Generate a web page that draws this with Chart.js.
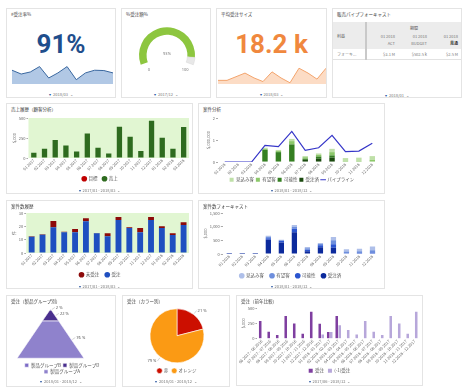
<!DOCTYPE html>
<html>
<head>
<meta charset="utf-8">
<script src="https://cdn.jsdelivr.net/npm/chart.js@4.4.1/dist/chart.umd.min.js"></script>
<style>
body{margin:0;width:474px;height:389px;background:#fff;position:relative;overflow:hidden;font-family:"Noto Sans CJK JP","Noto Sans",sans-serif}
.p{position:absolute;background:#fff;border:1px solid #e4e4e4;box-sizing:border-box}
.t{position:absolute;left:4px;top:3px;font-size:4.5px;line-height:5px;color:#444;white-space:nowrap}
.f{position:absolute;left:0;right:0;top:83px;text-align:center;font-size:4px;line-height:5px;color:#777;white-space:nowrap}
.f span{color:#2a56a0}
.big{position:absolute;left:0;right:0;top:22px;height:26px;line-height:26px;text-align:center;font-family:Roboto,sans-serif;font-weight:bold;font-size:26px}
.p canvas{position:absolute}
.tb{position:absolute;left:0;top:13px;width:128px;border-collapse:collapse;table-layout:fixed;font-size:4px;color:#777}
.tb td{padding:0 3px;text-align:right;white-space:nowrap;overflow:hidden}
.tb tr.h td{background:#ececec}
.tb td.c0{text-align:left;border-right:2px solid #c9c9c9;padding-left:4px}
.tb tr.d td{height:10px;border-bottom:1px solid #e2e2e2}
</style>
</head>
<body>

<div class="p" style="left:6px;top:8px;width:110px;height:90px">
  <div class="t">#受注率%</div>
  <div class="big" id="kA" style="color:#1f4e8c"></div>
  <canvas id="cA" width="101" height="19" style="left:5px;top:56px"></canvas>
  <div class="f"><span>▾</span>&nbsp; 2018/03 &nbsp;⌄</div>
</div>

<div class="p" style="left:121px;top:8px;width:90px;height:90px">
  <div class="t">%受注額%</div>
  <canvas id="cB" width="80" height="60" style="left:5px;top:7px"></canvas>
  <div class="f"><span>▾</span>&nbsp; 2017/12 &nbsp;⌄</div>
</div>

<div class="p" style="left:216px;top:8px;width:111px;height:90px">
  <div class="t">平均受注サイズ</div>
  <div class="big" id="kC" style="color:#f0883e"></div>
  <canvas id="cC" width="108" height="17" style="left:1px;top:58px"></canvas>
  <div class="f"><span>▾</span>&nbsp; 2018/03 &nbsp;⌄</div>
</div>

<div class="p" style="left:332px;top:8px;width:130px;height:90px">
  <div class="t">販売パイプフォーキャスト</div>
  <table class="tb">
    <colgroup><col style="width:33px"><col style="width:32px"><col style="width:32px"><col style="width:31px"></colgroup>
    <tr class="h" style="height:11px"><td class="c0" rowspan="2" style="color:#555">利益</td><td colspan="3" style="text-align:center;color:#555">期間</td></tr>
    <tr class="h" style="height:16px"><td style="vertical-align:top;line-height:6.5px">01 2018<br>ACT</td><td style="vertical-align:top;line-height:6.5px">01 2018<br>BUDGET</td><td style="vertical-align:top;line-height:6.5px">01 2018<br><b style="color:#333">見通</b></td></tr>
    <tr class="d"><td class="c0">フォーキ...</td><td>$3.1 M</td><td>$502.5 k</td><td>$2.5 M</td></tr>
  </table>
  <div class="f" style="top:84px"><span>▾</span>&nbsp; 2018/01 &nbsp;⌄</div>
</div>

<div class="p" style="left:6px;top:103px;width:187px;height:91px">
  <div class="t">売上履歴（顧客分析）</div>
  <canvas id="cE" width="187" height="81" style="left:0;top:6px"></canvas>
  <div class="f" style="top:84px"><span>▾</span>&nbsp; 2017/01 - 2018/03 &nbsp;⌄</div>
</div>

<div class="p" style="left:198px;top:103px;width:187px;height:91px">
  <div class="t">案件分析</div>
  <canvas id="cF" width="187" height="82" style="left:0;top:6px"></canvas>
  <div class="f" style="top:84px"><span>▾</span>&nbsp; 2018/01 - 2018/12 &nbsp;⌄</div>
</div>

<div class="p" style="left:6px;top:200px;width:187px;height:89px">
  <div class="t">案件数履歴</div>
  <canvas id="cG" width="187" height="82" style="left:0;top:4px"></canvas>
  <div class="f" style="top:83px"><span>▾</span>&nbsp; 2017/01 - 2018/03 &nbsp;⌄</div>
</div>

<div class="p" style="left:198px;top:200px;width:187px;height:89px">
  <div class="t">案件数フォーキャスト</div>
  <canvas id="cH" width="187" height="83" style="left:0;top:4px"></canvas>
  <div class="f" style="top:83px"><span>▾</span>&nbsp; 2018/01 - 2018/12 &nbsp;⌄</div>
</div>

<div class="p" style="left:6px;top:295px;width:110px;height:92px">
  <div class="t">受注（製品グループ別）</div>
  <canvas id="cI" width="110" height="88" style="left:0;top:0"></canvas>
  <div class="f" style="top:83px"><span>▾</span>&nbsp; 2018/01 - 2018/12 &nbsp;⌄</div>
</div>

<div class="p" style="left:122px;top:295px;width:108px;height:92px">
  <div class="t">受注（カラー別）</div>
  <canvas id="cJ" width="108" height="87" style="left:0;top:0"></canvas>
  <div class="f" style="top:83px"><span>▾</span>&nbsp; 2018/01 - 2018/12 &nbsp;⌄</div>
</div>

<div class="p" style="left:236px;top:295px;width:187px;height:91px">
  <div class="t">受注（前年比較）</div>
  <canvas id="cK" width="187" height="83" style="left:0;top:4px"></canvas>
  <div class="f" style="top:83px"><span>▾</span>&nbsp; 2017/06 - 2018/12 &nbsp;⌄</div>
</div>

<script>
// KPI tiles
const rateKpi = '91%';
const sizeKpi = '18.2 k';
const rateSpark = [8.7, 6.3, 7.6, 11, 3.8, 7, 11, 2.7, 7, 8.7, 8.5, 7];
const sizeSpark = [3, 3, 6, 9, 5, 2, 10, 5, 1, 13, 9, 4, 13];
const gaugeValue = 93;
const gaugeMax = 100;

// sales history
const months1718 = ['01 2017','02 2017','03 2017','04 2017','05 2017','06 2017','07 2017','08 2017','09 2017','10 2017','11 2017','12 2017','01 2018','02 2018','03 2018'];
const salesTarget = [];
const salesActual = [66, 116, 225, 158, 83, 308, 129, 58, 392, 267, 88, 467, 254, 116, 387];

// pipeline ($M)
const months18 = ['01 2018','02 2018','03 2018','04 2018','05 2018','06 2018','07 2018','08 2018','09 2018','10 2018','11 2018','12 2018'];
const pipeLead = [0, 0, 0, 0.05, 0.05, 0.1, 0.05, 0.06, 0.15, 0.13, 0.15, 0.17];
const pipeProspect = [0, 0, 0, 0.05, 0.05, 0.15, 0.07, 0.08, 0.15, 0.05, 0.05, 0.1];
const pipeLikely = [0, 0, 0, 0.55, 0.45, 0.8, 0.05, 0.1, 0.1, 0, 0, 0];
const pipeWon = [0, 0, 0, 0, 0, 0, 0.1, 0.15, 0.2, 0, 0, 0];
const pipeLine = [0, 0, 0, 0.76, 0.7, 1.39, 0.53, 0.65, 1.21, 0.47, 0.5, 0.85];

// deal counts
const dealsLost = [0.3, 0.3, 4.7, 0.5, 2.5, 2.2, 0.3, 2.3, 2.2, 0.5, 3.3, 2.2, 1.2, 1.4, 2];
const dealsWon = [12.3, 13.8, 19.3, 15.5, 15.5, 23.8, 14.8, 12.5, 24.8, 18.8, 15.5, 24.8, 18.8, 13.5, 21];

// deal forecast ($,000)
const fcLead = [10, 10, 10, 40, 20, 60, 45, 30, 120, 90, 90, 140];
const fcProspect = [0, 0, 0, 50, 25, 80, 50, 50, 140, 60, 60, 80];
const fcLikely = [0, 0, 0, 60, 50, 120, 60, 70, 130, 30, 40, 60];
const fcWon = [5, 5, 5, 520, 425, 800, 100, 250, 230, 0, 0, 0];

// orders by product group (pyramid, top to bottom)
const groupNames = ['製品グループB', '製品グループD', '製品グループA'];
const groupShare = [2, 22, 76];

// orders by colour
const colourNames = ['赤', 'オレンジ'];
const colourShare = [21, 79];

// orders year over year
const yoyLabels = ['06 2017 - 06 2016','07 2017 - 07 2016','08 2017 - 08 2016','09 2017 - 09 2016','10 2017 - 10 2016','11 2017 - 11 2016','12 2017 - 12 2016','01 2018 - 01 2017','02 2018 - 02 2017','03 2018 - 03 2017','04 2018 - 04 2017','05 2018 - 05 2017','06 2018 - 06 2017','07 2018 - 07 2017','08 2018 - 08 2017','09 2018 - 09 2017','10 2018 - 10 2017','11 2018 - 11 2017','12 2018 - 12 2017'];
const ordersNow = [289, 114, 60, 371, 250, 82, 441, 245, 109, 371, null, null, null, null, null, null, null, null, null];
const ordersPrev = [null, null, null, null, null, null, null, 71, 109, 218, 142, 71, 289, 114, 60, 371, 250, 82, 441];

Chart.defaults.font.family = "'Noto Sans CJK JP','Noto Sans',sans-serif";
Chart.defaults.font.size = 4;
Chart.defaults.color = '#666';
Chart.defaults.animation = false;
Chart.defaults.events = [];
Chart.defaults.plugins.tooltip.enabled = false;

document.getElementById('kA').textContent = rateKpi;
document.getElementById('kC').textContent = sizeKpi;

// light fill behind the plot area
const plotBg = {
  id: 'plotBg',
  beforeDraw: function(chart, args, opts) {
    if (!opts.color) return;
    var a = chart.chartArea;
    chart.ctx.save();
    chart.ctx.fillStyle = opts.color;
    chart.ctx.fillRect(a.left, a.top, a.right - a.left, a.bottom - a.top);
    chart.ctx.restore();
  }
};

function sparkline(id, values, line, fill, max) {
  new Chart(document.getElementById(id), {
    type: 'line',
    data: {
      labels: values.map(function(v, i) { return i; }),
      datasets: [{data: values, borderColor: line, backgroundColor: fill, borderWidth: 1, fill: 'start', pointRadius: 0, tension: 0}]
    },
    options: {
      responsive: false,
      plugins: {legend: {display: false}},
      scales: {x: {display: false}, y: {display: false, min: 0, max: max}}
    }
  });
}
sparkline('cA', rateSpark, '#39679f', '#b1c8e5', 12);
sparkline('cC', sizeSpark, '#f3a46d', '#fcdcc5', 14);

// gauge
const gaugeText = {
  id: 'gaugeText',
  afterDraw: function(chart) {
    var arc = chart.getDatasetMeta(0).data[0];
    var ctx = chart.ctx;
    ctx.save();
    ctx.fillStyle = '#777';
    ctx.font = "4px 'Noto Sans'";
    ctx.textAlign = 'center';
    ctx.textBaseline = 'middle';
    ctx.fillText(gaugeValue + '%', arc.x, arc.y - 1);
    var dx = arc.innerRadius * Math.cos(Math.PI / 9) - 1;
    ctx.fillText('0', arc.x - dx, arc.y + 15);
    ctx.fillText(String(gaugeMax), arc.x + dx, arc.y + 15);
    ctx.restore();
  }
};
new Chart(document.getElementById('cB'), {
  type: 'doughnut',
  data: {datasets: [{data: [gaugeValue, gaugeMax - gaugeValue], backgroundColor: ['#8dc63f', '#e8e8e8'], borderColor: ['#8dc63f', '#d6d6d6'], borderWidth: [0, 0.5]}]},
  options: {
    responsive: false,
    rotation: -110,
    circumference: 220,
    radius: 28,
    cutout: '73%',
    plugins: {legend: {display: false}}
  },
  plugins: [gaugeText]
});

function legendOpts(style, pad) {
  return {
    position: 'bottom',
    labels: {usePointStyle: true, pointStyle: style, boxWidth: 4, boxHeight: 4, padding: pad, font: {size: 4.5}, color: '#555'}
  };
}

function barScales(max, step, title) {
  return {
    x: {stacked: true, grid: {display: false, drawTicks: false}, border: {display: false},
        ticks: {autoSkip: false, minRotation: 45, maxRotation: 45, padding: 0, font: {size: 4}}},
    y: {stacked: true, min: 0, max: max, border: {display: false},
        grid: {drawOnChartArea: false, tickLength: 2, color: '#aaa'},
        ticks: {stepSize: step, padding: 1, font: {size: 4}},
        title: {display: true, text: title, padding: 1, font: {size: 4}}}
  };
}

// sales history
new Chart(document.getElementById('cE'), {
  type: 'bar',
  data: {
    labels: months1718,
    datasets: [
      {label: '目標', data: salesTarget, backgroundColor: '#c00000'},
      {label: '売上', data: salesActual, backgroundColor: '#2e6b1f', barPercentage: 0.55, categoryPercentage: 0.9}
    ]
  },
  options: {
    responsive: false,
    layout: {padding: {top: 8, right: 5, left: 4}},
    scales: barScales(500, 250, '$,000'),
    plugins: {legend: legendOpts('circle', 5), plotBg: {color: '#e1f6d2'}}
  },
  plugins: [plotBg]
});

// pipeline: bars stacked darkest first, legend listed lightest first
new Chart(document.getElementById('cF'), {
  type: 'bar',
  data: {
    labels: months18,
    datasets: [
      {label: 'パイプライン', type: 'line', data: pipeLine, borderColor: '#3535c8', backgroundColor: '#3535c8', borderWidth: 1.2, pointRadius: 0, pointStyle: 'line', order: 0},
      {label: '受注済', data: pipeWon, backgroundColor: '#1b4a0f', barPercentage: 0.45, categoryPercentage: 0.9, pointStyle: 'rect', order: 1},
      {label: '可能性', data: pipeLikely, backgroundColor: '#357f22', barPercentage: 0.45, categoryPercentage: 0.9, pointStyle: 'rect', order: 1},
      {label: '有望客', data: pipeProspect, backgroundColor: '#8cc86a', barPercentage: 0.45, categoryPercentage: 0.9, pointStyle: 'rect', order: 1},
      {label: '見込み客', data: pipeLead, backgroundColor: '#bfe0a8', barPercentage: 0.45, categoryPercentage: 0.9, pointStyle: 'rect', order: 1}
    ]
  },
  options: {
    responsive: false,
    layout: {padding: {top: 8, right: 7, left: 6}},
    scales: barScales(2, 1, '$,000,000'),
    plugins: {
      legend: {position: 'bottom', labels: {usePointStyle: true, boxWidth: 4, boxHeight: 4, padding: 2, font: {size: 4.5}, color: '#555',
        sort: function(a, b) { return b.datasetIndex - a.datasetIndex; }}}
    }
  }
});

// deal counts
new Chart(document.getElementById('cG'), {
  type: 'bar',
  data: {
    labels: months1718,
    datasets: [
      {label: '受注', data: dealsWon, backgroundColor: '#1f4fc0', barPercentage: 0.6, categoryPercentage: 0.9},
      {label: '未受注', data: dealsLost, backgroundColor: '#8c0a0a', barPercentage: 0.6, categoryPercentage: 0.9}
    ]
  },
  options: {
    responsive: false,
    layout: {padding: {top: 8, right: 5, left: 4}},
    scales: barScales(30, 10, '件'),
    plugins: {legend: Object.assign(legendOpts('circle', 6), {reverse: true}), plotBg: {color: '#e1f6d2'}}
  },
  plugins: [plotBg]
});

// deal forecast
new Chart(document.getElementById('cH'), {
  type: 'bar',
  data: {
    labels: months18,
    datasets: [
      {label: '受注済', data: fcWon, backgroundColor: '#0c2a9c', barPercentage: 0.45, categoryPercentage: 0.9},
      {label: '可能性', data: fcLikely, backgroundColor: '#2b55cf', barPercentage: 0.45, categoryPercentage: 0.9},
      {label: '有望客', data: fcProspect, backgroundColor: '#6e8fdd', barPercentage: 0.45, categoryPercentage: 0.9},
      {label: '見込み客', data: fcLead, backgroundColor: '#aebfe9', barPercentage: 0.45, categoryPercentage: 0.9}
    ]
  },
  options: {
    responsive: false,
    layout: {padding: {top: 8, right: 7, left: 3}},
    scales: barScales(1500, 500, '$,000'),
    plugins: {legend: Object.assign(legendOpts('circle', 6), {reverse: true})}
  }
});

// pyramid: one filled trapezoid per group, stacked by share of height
const pyramidLabels = {
  id: 'pyramidLabels',
  afterDatasetsDraw: function(chart) {
    var ctx = chart.ctx;
    ctx.save();
    ctx.font = "4px 'Noto Sans'";
    ctx.fillStyle = '#555';
    ctx.strokeStyle = '#aaa';
    ctx.lineWidth = 0.5;
    ctx.textBaseline = 'middle';
    chart.data.datasets.forEach(function(ds, i) {
      var pts = chart.getDatasetMeta(i).data;
      var x = (pts[1].x + pts[2].x) / 2, y = (pts[1].y + pts[2].y) / 2;
      ctx.beginPath();
      ctx.moveTo(x + 1, y);
      ctx.lineTo(x + 4, y - 2);
      ctx.stroke();
      ctx.fillText(groupShare[i] + ' %', x + 5, y - 2);
    });
    ctx.restore();
  }
};
const groupColours = ['#7d6cc6', '#4a2f8e', '#8f82cc'];
var depth = 0;
const pyramidSets = groupShare.map(function(v, i) {
  var d0 = depth / 100;
  depth += v;
  var d1 = depth / 100;
  return {
    label: groupNames[i],
    data: [{x: -d0, y: 1 - d0}, {x: d0, y: 1 - d0}, {x: d1, y: 1 - d1}, {x: -d1, y: 1 - d1}, {x: -d0, y: 1 - d0}],
    showLine: true, fill: 'shape', backgroundColor: groupColours[i], borderColor: '#fff', borderWidth: 0.6, pointRadius: 0
  };
});
new Chart(document.getElementById('cI'), {
  type: 'scatter',
  data: {datasets: pyramidSets},
  options: {
    responsive: false,
    layout: {padding: {top: 13}},
    scales: {x: {display: false, min: -1.3, max: 1.985}, y: {display: false, min: -0.056, max: 1}},
    plugins: {legend: {position: 'bottom', labels: {boxWidth: 4, boxHeight: 4, padding: 2, font: {size: 4.5}, color: '#555'}}}
  },
  plugins: [pyramidLabels]
});

// pie
const pieLabels = {
  id: 'pieLabels',
  afterDatasetsDraw: function(chart) {
    var ctx = chart.ctx;
    ctx.save();
    ctx.font = "4px 'Noto Sans'";
    ctx.fillStyle = '#555';
    ctx.strokeStyle = '#aaa';
    ctx.lineWidth = 0.5;
    ctx.textBaseline = 'middle';
    chart.getDatasetMeta(0).data.forEach(function(arc, i) {
      var mid = (arc.startAngle + arc.endAngle) / 2, r = arc.outerRadius;
      var c = Math.cos(mid), s = Math.sin(mid);
      ctx.beginPath();
      ctx.moveTo(arc.x + c * (r + 1), arc.y + s * (r + 1));
      ctx.lineTo(arc.x + c * (r + 5), arc.y + s * (r + 5));
      ctx.stroke();
      ctx.textAlign = c >= 0 ? 'left' : 'right';
      ctx.fillText(colourShare[i] + ' %', arc.x + c * (r + 5) + (c >= 0 ? 1 : -1), arc.y + s * (r + 5));
    });
    ctx.restore();
  }
};
new Chart(document.getElementById('cJ'), {
  type: 'pie',
  data: {labels: colourNames, datasets: [{data: colourShare, backgroundColor: ['#cc0f00', '#fb9a14'], borderColor: '#fff', borderWidth: 0.6}]},
  options: {
    responsive: false,
    radius: 27,
    layout: {padding: {top: 11}},
    plugins: {legend: legendOpts('circle', 4)}
  },
  plugins: [pieLabels]
});

// year over year
new Chart(document.getElementById('cK'), {
  type: 'bar',
  data: {
    labels: yoyLabels,
    datasets: [
      {label: '受注', data: ordersNow, backgroundColor: '#7f3fa0', barPercentage: 0.85, categoryPercentage: 0.7},
      {label: '(-1)受注', data: ordersPrev, backgroundColor: '#b7a7da', barPercentage: 0.85, categoryPercentage: 0.7}
    ]
  },
  options: {
    responsive: false,
    layout: {padding: {top: 8, right: 5, left: 3}},
    scales: (function() { var s = barScales(500, 250, '$,000'); s.x.stacked = false; s.y.stacked = false; return s; })(),
    plugins: {legend: legendOpts('rect', 4)}
  }
});
</script>
</body>
</html>
